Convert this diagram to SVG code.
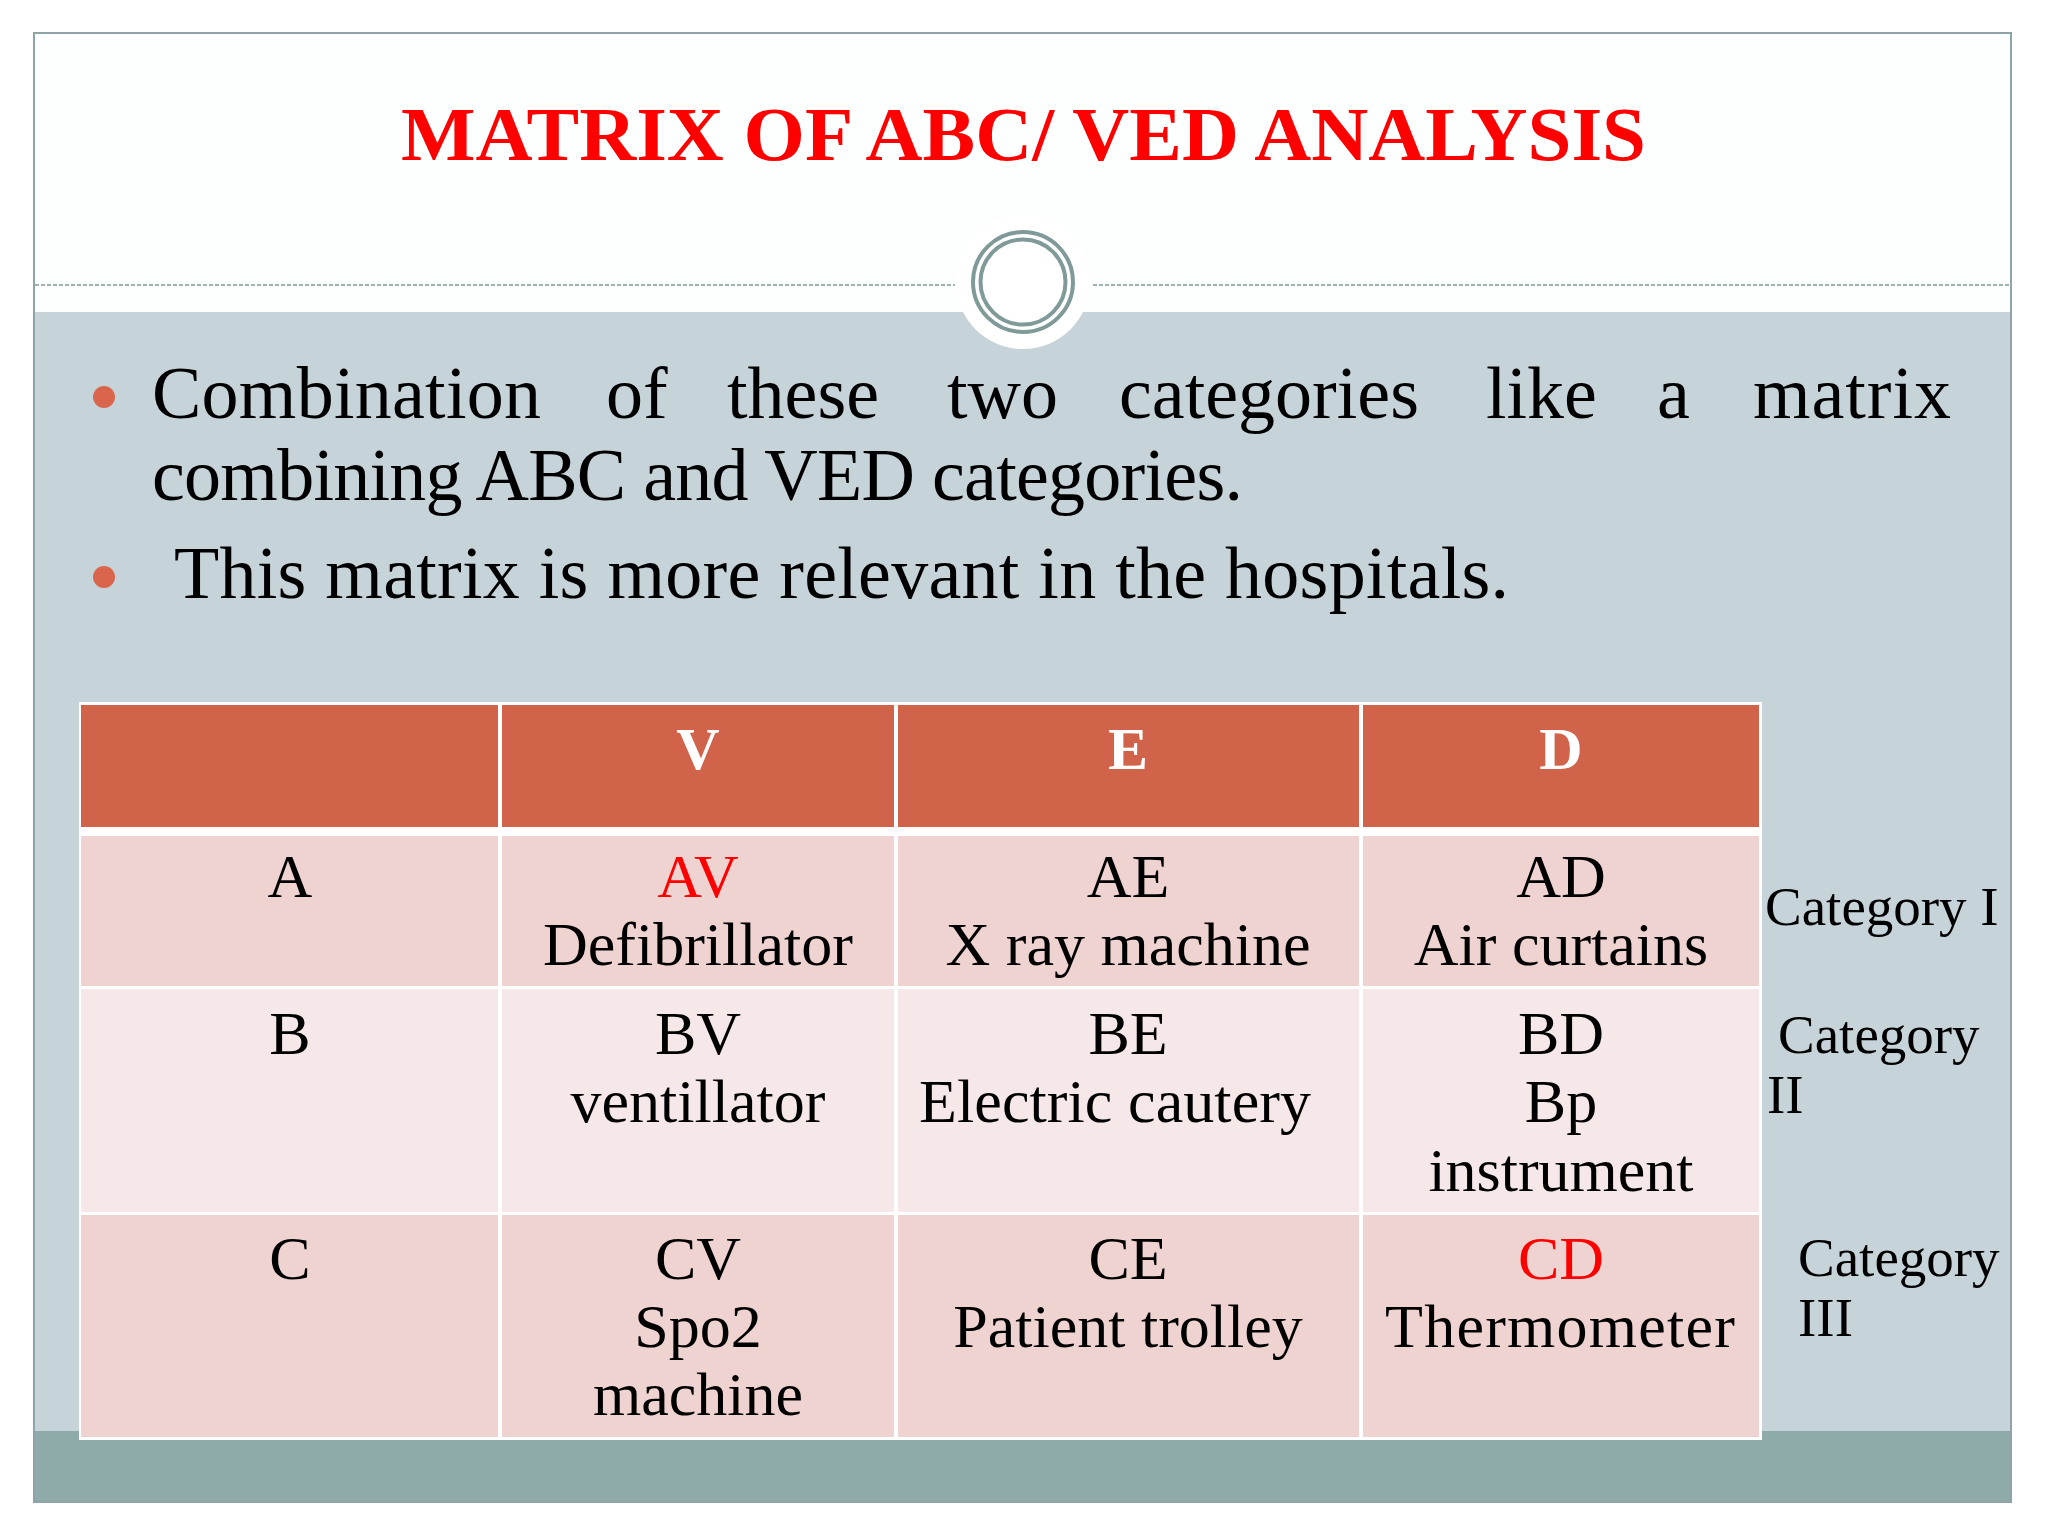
<svg xmlns="http://www.w3.org/2000/svg" width="2048" height="1536" viewBox="0 0 2048 1536">
<style>
.body{font-family:"Liberation Serif","Times New Roman",serif;fill:#000;}
.bul{font-size:74px;}
.cell{font-size:62px;text-anchor:middle;}
.cat{font-size:55px;}
.hdr{font-family:"Liberation Serif","Times New Roman",serif;font-weight:bold;font-size:60px;fill:#fff;text-anchor:middle;}
.red{fill:#f00;}
.h{fill:#D1634A;}
.ra{fill:#EFD3D0;}
.rb{fill:#F6E8E9;}
</style>
<rect width="2048" height="1536" fill="#fff"/>
<g id="slide">
<rect x="34" y="33" width="1977" height="279" fill="#FDFEFE"/>
<rect x="34" y="312" width="1977" height="1119" fill="#C6D3D8"/>
<rect x="34" y="1431" width="1977" height="71" fill="#8EABAA"/>
<rect x="34" y="33" width="1977" height="1469" fill="none" stroke="#8FA4A6" stroke-width="2"/>
<line x1="35" y1="285" x2="955" y2="285" stroke="#7F9A98" stroke-width="1.5" stroke-dasharray="4 2"/>
<line x1="1093" y1="285" x2="2010" y2="285" stroke="#7F9A98" stroke-width="1.5" stroke-dasharray="4 2"/>
<circle cx="1023" cy="282" r="67" fill="#fff"/>
<circle cx="1023" cy="282" r="50" fill="none" stroke="#7F9A98" stroke-width="4"/>
<circle cx="1023" cy="282" r="42.5" fill="none" stroke="#7F9A98" stroke-width="4"/>
</g>
<g id="title">
<text x="1023.5" y="160" text-anchor="middle" font-family="'Liberation Serif','Times New Roman',serif" font-weight="bold" font-size="76" fill="#F00" textLength="1245" lengthAdjust="spacingAndGlyphs">MATRIX OF ABC/ VED ANALYSIS</text>
</g>
<g id="bullets" class="body bul">
<circle cx="104" cy="397" r="11" fill="#D9664C"/>
<circle cx="104" cy="577" r="11" fill="#D9664C"/>
<text x="152" y="418" textLength="389">Combination</text>
<text x="606" y="418">of</text>
<text x="727" y="418">these</text>
<text x="947" y="418">two</text>
<text x="1119" y="418">categories</text>
<text x="1486" y="418">like</text>
<text x="1657" y="418">a</text>
<text x="1753" y="418" textLength="198">matrix</text>
<text x="152" y="500" textLength="1091">combining ABC and VED categories.</text>
<text x="174" y="598" textLength="1335">This matrix is more relevant in the hospitals.</text>
</g>
<g id="table">
<rect x="79" y="702" width="1683" height="738" fill="#fff"/>
<g id="header">
<rect class="h" x="81" y="705" width="417" height="122"/>
<rect class="h" x="502" y="705" width="392" height="122"/>
<rect class="h" x="898" y="705" width="461" height="122"/>
<rect class="h" x="1363" y="705" width="396" height="122"/>
<text class="hdr" x="698" y="769">V</text>
<text class="hdr" x="1128" y="769">E</text>
<text class="hdr" x="1561" y="769">D</text>
</g>
<g id="rowA" class="body cell">
<rect class="ra" x="81" y="836" width="417" height="150"/>
<rect class="ra" x="502" y="836" width="392" height="150"/>
<rect class="ra" x="898" y="836" width="461" height="150"/>
<rect class="ra" x="1363" y="836" width="396" height="150"/>
<text x="290" y="897">A</text>
<text x="698" y="897" class="red">AV</text>
<text x="698" y="965" textLength="310">Defibrillator</text>
<text x="1128" y="897">AE</text>
<text x="1128" y="965">X ray machine</text>
<text x="1561" y="897">AD</text>
<text x="1561" y="965">Air curtains</text>
</g>
<g id="rowB" class="body cell">
<rect class="rb" x="81" y="989" width="417" height="223"/>
<rect class="rb" x="502" y="989" width="392" height="223"/>
<rect class="rb" x="898" y="989" width="461" height="223"/>
<rect class="rb" x="1363" y="989" width="396" height="223"/>
<text x="290" y="1054">B</text>
<text x="698" y="1054">BV</text>
<text x="698" y="1122">ventillator</text>
<text x="1128" y="1054">BE</text>
<text x="1115" y="1122" textLength="392">Electric cautery</text>
<text x="1561" y="1054">BD</text>
<text x="1561" y="1122">Bp</text>
<text x="1561" y="1191">instrument</text>
</g>
<g id="rowC" class="body cell">
<rect class="ra" x="81" y="1215" width="417" height="222"/>
<rect class="ra" x="502" y="1215" width="392" height="222"/>
<rect class="ra" x="898" y="1215" width="461" height="222"/>
<rect class="ra" x="1363" y="1215" width="396" height="222"/>
<text x="290" y="1279">C</text>
<text x="698" y="1279">CV</text>
<text x="698" y="1347">Spo2</text>
<text x="698" y="1415">machine</text>
<text x="1128" y="1279">CE</text>
<text x="1128" y="1347">Patient trolley</text>
<text x="1561" y="1279" class="red">CD</text>
<text x="1560" y="1347" textLength="350">Thermometer</text>
</g>
</g>
<g id="categories" class="body cat">
<text x="1765" y="925">Category I</text>
<text x="1778" y="1053">Category</text>
<text x="1767" y="1113">II</text>
<text x="1798" y="1276">Category</text>
<text x="1798" y="1336">III</text>
</g>
</svg>
